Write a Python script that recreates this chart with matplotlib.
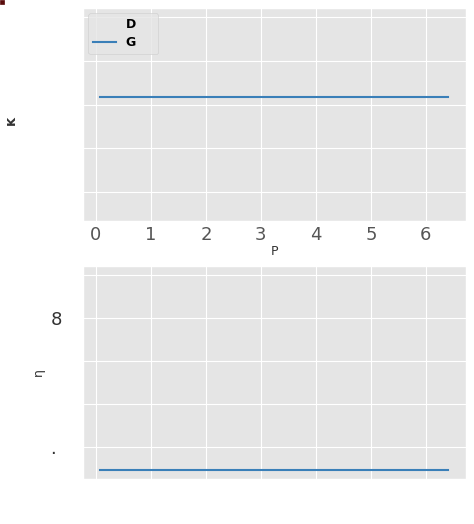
#!/usr/bin/env python3
# -*- coding: utf-8 -*-
"""
Two stacked panels, ggplot style.
"""
import matplotlib
matplotlib.use('Agg')
import matplotlib.pyplot as plt
from matplotlib.patches import Rectangle

plt.style.use('ggplot')

# series values
x_vals = [0.08, 6.41]
g_top = [2.17, 2.17]
g_bottom = [-0.53, -0.53]
x_ticks = [0, 1, 2, 3, 4, 5, 6]
x_ticklabels = ['0', '1', '2', '3', '4', '5', '6']
y_ticks = [0, 1, 2, 3, 4]
top_yticklabels = ['', '', '', '', '']
bottom_yticklabels = ['. ', '', '', '8', '']

fig = plt.figure(figsize=(4.74, 5.24), dpi=100)
ax1 = fig.add_axes([83/474, 1-221/524, 383/474, 213/524])
ax2 = fig.add_axes([83/474, 1-479/524, 383/474, 213/524])

# top panel
ax1.plot([], [], ls='none', label='D    ')
ax1.plot(x_vals, g_top, color='#3a7fb8', lw=1.5, label='G    ')
ax1.set_xlim(-0.236, 6.73)
ax1.set_ylim(-0.663, 4.206)
ax1.set_xticks(x_ticks)
ax1.set_xticklabels(x_ticklabels, fontsize=13, color='#555555')
ax1.set_yticks(y_ticks)
ax1.set_yticklabels(top_yticklabels)
ax1.tick_params(length=0)
ax1.set_xlabel('P', fontsize=9, color='#333333', labelpad=1)
ax1.set_ylabel('ĸ', fontsize=10, color='#333333', labelpad=46, fontweight='bold')
ax1.yaxis.set_label_coords(-0.17, 0.47)
leg = ax1.legend(loc='upper left', fontsize=9, handlelength=1.8,
                 labelspacing=0.4, borderaxespad=0.4)
for t in leg.get_texts():
    t.set_fontweight('bold')

# bottom panel
ax2.plot(x_vals, g_bottom, color='#3a7fb8', lw=1.5)
ax2.set_xlim(-0.236, 6.73)
ax2.set_ylim(-0.74, 4.21)
ax2.set_xticks(x_ticks)
ax2.set_xticklabels([])
ax2.set_yticks(y_ticks)
ax2.set_yticklabels(bottom_yticklabels, fontsize=13, color='#333333')
ax2.tick_params(length=0, pad=15)
ax2.set_ylabel('η', fontsize=9, color='#333333', labelpad=4)

# small dark mark in the corner
fig.patches.append(Rectangle((0, 1-4/524), 4/474, 4/524, transform=fig.transFigure,
                             color='#5a0c0c', zorder=5))

fig.savefig('out.png', dpi=100)
